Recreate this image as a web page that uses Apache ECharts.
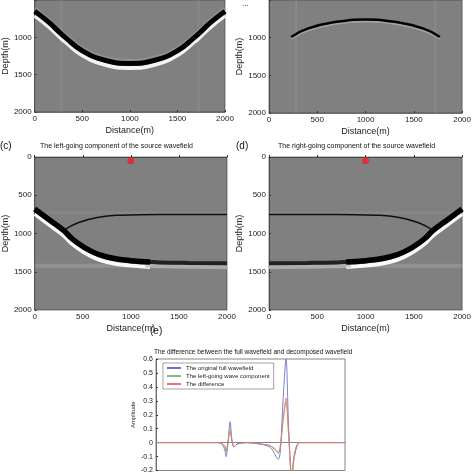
<!DOCTYPE html><html><head><meta charset="utf-8">
<script src="https://cdn.jsdelivr.net/npm/echarts@6/dist/echarts.min.js"></script>
<style>html,body{margin:0;padding:0;background:#fff}#c{width:474px;height:474px}</style></head><body><div id="c"></div>
<script>
// Panel (a): full source wavefield front
const aFront=[[0,650],[150,800],[250,920],[320,1000],[500,1180],[750,1310],[1000,1350],[1250,1310],[1500,1180],[1680,1000],[1750,920],[1850,800],[2000,650]];
// Panel (b): reflected arc
const bArc=[[230,990],[400,880],[700,790],[1000,760],[1300,790],[1600,880],[1770,990]];
// Panel (c): left-going component
const cThick=[[0,680],[150,820],[300,960],[400,1080],[600,1240],[800,1320],[1000,1355],[1200,1372]];
const cTail=[[1150,1370],[1300,1378],[1600,1385],[2000,1390]];
const cThin=[[300,960],[450,860],[650,790],[900,760],[1300,750],[2000,750]];
const source=[[1000,50]];
// Panel (e) traces
const eBlue=[[0,0],[33,0],[35,-0.01],[36.3,-0.05],[37.1,-0.1],[38,-0.02],[39.2,0.15],[40.2,0.02],[41.3,-0.03],[43,-0.01],[48,0],[55,-0.01],[60,-0.03],[62,-0.06],[63.5,-0.1],[64.7,-0.12],[65.8,-0.06],[67.2,0.3],[68.8,0.6],[70.2,0.1],[71.8,-0.25],[73,-0.12],[74.5,-0.03],[76,0],[100,0]];
const eGreen=[[0,0],[33,0],[36.3,-0.03],[37.1,-0.07],[38,0],[39.2,0.1],[40.2,0.01],[41.3,-0.03],[43,-0.01],[48,0],[55,-0.01],[60,-0.02],[63.5,-0.06],[64.7,-0.08],[65.8,-0.03],[67.2,0.15],[68.8,0.29],[70.2,0.05],[71.8,-0.25],[73,-0.1],[74.5,-0.02],[76,0],[100,0]];
const eRed=[[0,0],[33,0],[36.3,-0.02],[37.1,-0.06],[38,0],[39.2,0.08],[40.2,0.01],[41.3,-0.03],[43,-0.01],[48,0],[55,-0.01],[60,-0.02],[63.5,-0.05],[64.7,-0.07],[65.8,-0.02],[67.2,0.16],[68.8,0.32],[70.2,0.05],[71.8,-0.25],[73,-0.1],[74.5,-0.02],[76,0],[100,0]];
const xTicks=[0,500,1000,1500,2000];

const F='Liberation Sans';
const mir=a=>a.map(p=>[2000-p[0],p[1]]);
const off=(a,d)=>a.map(p=>[p[0],p[1]+d]);
const grids=[
 {left:29,top:0,width:196,height:112},
 {left:269,top:0,width:198,height:113},
 {left:30,top:157,width:197,height:153},
 {left:269,top:157,width:198,height:153},
 {left:156,top:359,width:189,height:117}
].map(g=>Object.assign(g,{show:true,backgroundColor:'#808080',borderColor:'#333',borderWidth:0.6,containLabel:false}));
grids[4].backgroundColor='#fff';
const xA=[],yA=[];
for(let i=0;i<4;i++){
 xA.push({gridIndex:i,type:'value',min:0,max:2000,interval:500,name:'Distance(m)',nameLocation:'middle',nameGap:14,nameTextStyle:{fontFamily:F,fontSize:9,color:'#222'},axisLabel:{fontFamily:F,fontSize:8,color:'#222',margin:3,formatter:v=>String(v)},axisLine:{lineStyle:{color:'#333',width:0.6}},axisTick:{inside:true,length:2},splitLine:{show:false}});
 yA.push({gridIndex:i,type:'value',min:i<2?500:0,max:2000,interval:500,inverse:true,name:'Depth(m)',nameLocation:'middle',nameGap:19,nameTextStyle:{fontFamily:F,fontSize:9,color:'#222'},axisLabel:{fontFamily:F,fontSize:8,color:'#222',margin:3,formatter:v=>(v<=500&&i<2)?'':String(v)},axisLine:{lineStyle:{color:'#333',width:0.6}},axisTick:{inside:true,length:2},splitLine:{show:false}});
}
xA.push({gridIndex:4,type:'value',min:0,max:100,axisLabel:{show:false},axisTick:{show:false},axisLine:{lineStyle:{color:'#333',width:0.6}},splitLine:{show:false}});
yA.push({gridIndex:4,type:'value',min:-0.2,max:0.6,interval:0.1,name:'Amplitude',nameLocation:'middle',nameGap:20,nameTextStyle:{fontFamily:F,fontSize:6,color:'#222'},axisLabel:{fontFamily:F,fontSize:7,color:'#222',margin:3,formatter:v=>Math.abs(v)<1e-9?'0':v.toFixed(1)},axisLine:{lineStyle:{color:'#333',width:0.6}},axisTick:{inside:true,length:2},splitLine:{show:false}});
const L=(i,d,c,w,op,sm)=>({type:'line',xAxisIndex:i,yAxisIndex:i,data:d,smooth:sm===undefined?0.5:sm,symbol:'none',silent:true,lineStyle:{color:c,width:w,opacity:op===undefined?1:op}});
const series=[
 L(0,[[280,500],[280,2000]],'#8c8c8c',2,0.6,0),L(0,[[1720,500],[1720,2000]],'#8c8c8c',2,0.6,0),
 L(0,off(aFront,60),'#fff',4,0.9),L(0,off(aFront,-40),'#aaa',3,0.4),L(0,aFront,'#000',5),
 L(1,[[280,500],[280,2000]],'#909090',2,0.6,0),L(1,[[1720,500],[1720,2000]],'#909090',2,0.6,0),
 L(1,off(bArc,25),'#b0b0b0',2,0.7),L(1,bArc,'#000',2.5),
 L(2,[[0,1420],[2000,1420]],'#aaa',4,0.4,0),L(2,[[0,730],[2000,730]],'#999',3,0.3,0),
 L(2,off(cThick,65),'#fff',4,0.95),L(2,off(cTail,50),'#bbb',4,0.7),L(2,cThin,'#111',1.5),L(2,cTail,'#222',4),L(2,cThick,'#000',5.5),
 L(3,[[0,1420],[2000,1420]],'#aaa',4,0.4,0),L(3,[[0,730],[2000,730]],'#999',3,0.3,0),
 L(3,off(mir(cThick),65),'#fff',4,0.95),L(3,off(mir(cTail),50),'#bbb',4,0.7),L(3,mir(cThin),'#111',1.5),L(3,mir(cTail),'#222',4),L(3,mir(cThick),'#000',5.5),
 {type:'scatter',xAxisIndex:2,yAxisIndex:2,data:source,symbolSize:7,itemStyle:{color:'#e8202a'}},
 {type:'scatter',xAxisIndex:3,yAxisIndex:3,data:source,symbolSize:7,itemStyle:{color:'#e8202a'}},
 Object.assign(L(4,eBlue,'#6f6fc8',0.9,1,0.3),{name:'The original full wavefield',itemStyle:{color:'#6f6fc8'}}),
 Object.assign(L(4,eGreen,'#7cc07c',0.9,1,0.3),{name:'The left-going wave component',itemStyle:{color:'#7cc07c'}}),
 Object.assign(L(4,eRed,'#f07070',0.9,1,0.3),{name:'The difference',itemStyle:{color:'#f07070'}})
];
const T=(x,y,t,s,extra)=>({type:'text',left:x,top:y,style:Object.assign({text:t,fontFamily:F,fontSize:s,fill:'#111'},extra||{})});
const ch=echarts.init(document.getElementById('c'),null,{renderer:'canvas'});
ch.setOption({animation:false,grid:grids,xAxis:xA,yAxis:yA,series,
 legend:{left:163,top:363,orient:'vertical',itemWidth:14,itemHeight:2,itemGap:2,padding:[2,4],borderColor:'#444',borderWidth:0.5,backgroundColor:'#fff',textStyle:{fontFamily:F,fontSize:6,color:'#222'},icon:'rect',data:['The original full wavefield','The left-going wave component','The difference']},
 graphic:[
  T(0,141,'(c)',10),T(40,143,'The left-going component of the source wavefield',7),
  T(236,141,'(d)',10),T(278,143,'The right-going component of the source wavefield',7),
  T(150,326,'(e)',10),T(154,349,'The difference between the full wavefield and decomposed wavefield',6.5),
  T(242,0,'...',8)
 ]});
</script></body></html>
